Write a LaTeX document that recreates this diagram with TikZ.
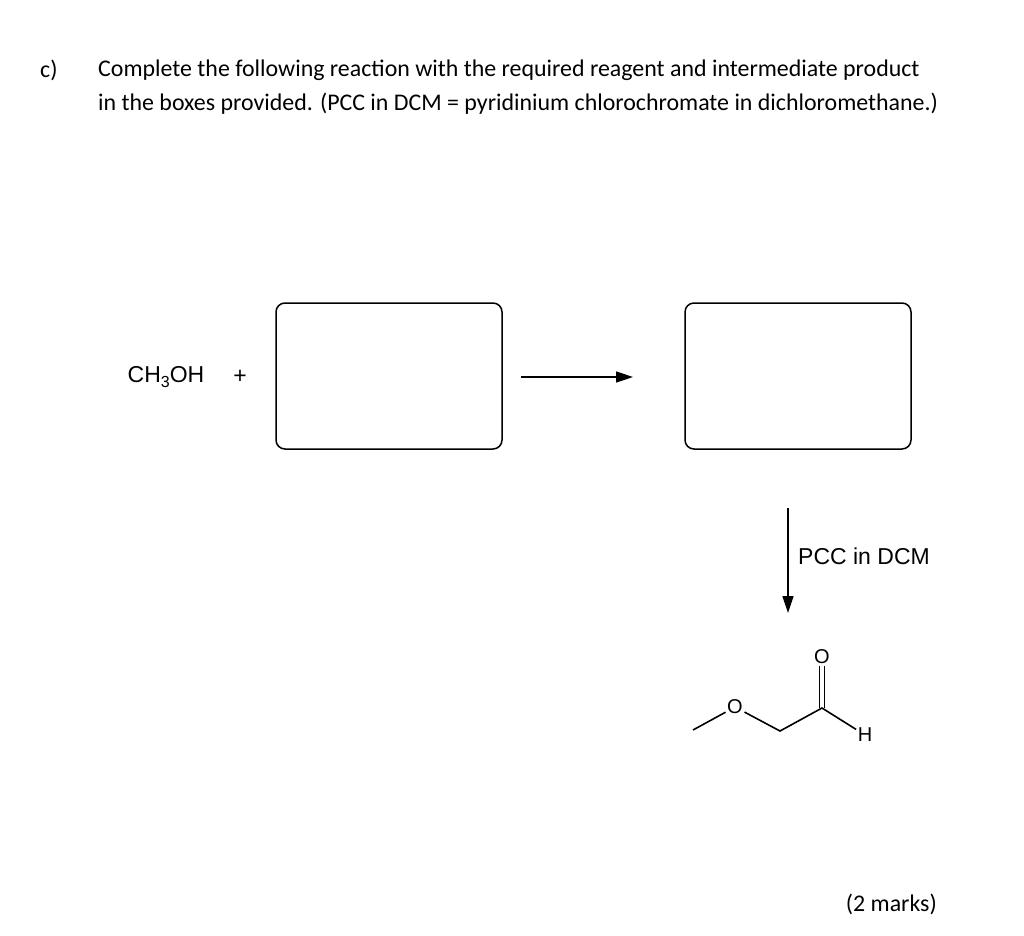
\documentclass[tikz,border=0pt]{standalone}
\usepackage{fontspec}
\setmainfont{Carlito}
\newfontfamily\chem{Liberation Sans}
\usetikzlibrary{arrows.meta}
\begin{document}
\begin{tikzpicture}[x=1pt,y=-1pt,
  txt/.style={inner sep=0pt,font=\fontsize{23.9}{28}\selectfont},
  ch/.style={inner sep=1pt,font=\chem\fontsize{23}{26}\selectfont},
  atom/.style={inner sep=1.5pt,font=\chem\fontsize{20}{24}\selectfont},
  boxx/.style={draw,line width=1.5pt,rounded corners=9pt},
  rx/.style={line width=1.6pt,-{Triangle[length=17pt,width=11pt]}},
  bond/.style={line width=1.6pt}]
\useasboundingbox (0,0) rectangle (1024,935);
\node[txt,anchor=west] (c) at (40,70) {c)};
\node[txt,anchor=west] (l1) at (98,70) {Complete the following reaction with the required reagent and intermediate product};
\node[txt,anchor=west] (l2) at (98,104) {in the boxes provided. (PCC in DCM = pyridinium chlorochromate in dichloromethane.)};
\node[ch] (meoh) at (166,377) {CH\raisebox{-0.35ex}{\fontsize{16}{16}\selectfont 3}OH};
\node[ch] (plus) at (240,377) {+};
\node[boxx,minimum width=226pt,minimum height=146pt] (b1) at (389,376) {};
\node[boxx,minimum width=226pt,minimum height=146pt] (b2) at (798,376) {};
\coordinate (a1) at (521,377); \coordinate (a2) at (633,377);
\draw[rx] (a1) -- (a2);
\coordinate (d1) at (788,508); \coordinate (d2) at (788,613);
\draw[rx] (d1) -- (d2);
\node[ch,anchor=west] (pcc) at (797,556) {PCC in DCM};
\coordinate (me) at (693,730);
\node[atom] (o1) at (735,707) {O};
\coordinate (c2) at (780,731);
\coordinate (c1) at (822,708);
\node[atom] (o2) at (822,657) {O};
\node[atom] (h) at (865,735) {H};
\draw[bond] (me) -- (o1) -- (c2) -- (c1) -- (h);
\draw[bond] ([xshift=-2.5pt]c1) -- ([xshift=-2.5pt]o2.south);
\draw[bond] ([xshift=2.5pt]c1) -- ([xshift=2.5pt]o2.south);
\node[txt,anchor=east] (marks) at (937,904) {(2 marks)};
\end{tikzpicture}
\end{document}
